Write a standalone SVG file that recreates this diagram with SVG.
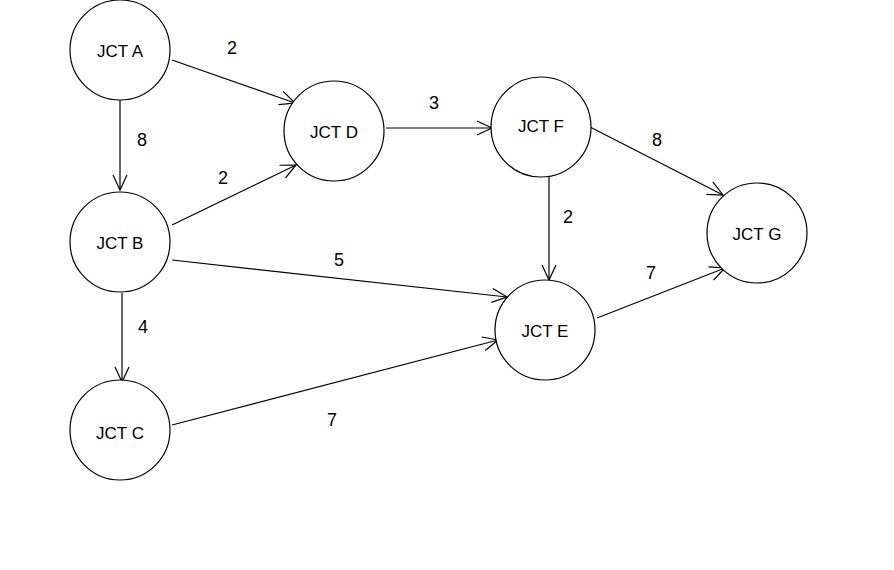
<svg xmlns="http://www.w3.org/2000/svg" width="894" height="570" viewBox="0 0 894 570">
<style>
circle{fill:#fff;stroke:#000;stroke-width:1.2}
text{font-family:"Liberation Sans",Arial,sans-serif;font-size:18px;fill:#000}
.n{text-anchor:middle;dominant-baseline:central;font-size:17px}
#edges line{stroke:#000;stroke-width:1.2;marker-end:url(#ah)}
</style>
<defs><marker id="ah" markerWidth="20" markerHeight="20" refX="16" refY="10" orient="auto" markerUnits="userSpaceOnUse"><path d="M1,3 L16,10 L1,17" fill="none" stroke="#000" stroke-width="1.2"/></marker></defs>
<rect width="894" height="570" fill="#fff"/>
<g id="edges">
<line x1="172" y1="60" x2="295" y2="103"/>
<line x1="120" y1="100" x2="120" y2="190"/>
<line x1="172" y1="225" x2="296" y2="165"/>
<line x1="172" y1="260" x2="507" y2="297"/>
<line x1="122" y1="293" x2="122" y2="382"/>
<line x1="172" y1="425" x2="498" y2="340"/>
<line x1="386" y1="128" x2="492" y2="128"/>
<line x1="549" y1="177" x2="549" y2="280"/>
<line x1="590" y1="127" x2="723" y2="195"/>
<line x1="597" y1="318" x2="725" y2="268"/>
<text x="227" y="54">2</text><text x="137" y="146">8</text><text x="218" y="184">2</text>
<text x="334" y="266">5</text><text x="138" y="333">4</text><text x="327" y="426">7</text>
<text x="429" y="109">3</text><text x="563" y="223">2</text><text x="652" y="146">8</text><text x="646" y="279">7</text>
</g>
<g id="A"><circle cx="120" cy="50" r="50"/><text class="n" x="120" y="51">JCT A</text></g>
<g id="B"><circle cx="120" cy="242" r="50"/><text class="n" x="120" y="243">JCT B</text></g>
<g id="C"><circle cx="120" cy="430" r="50"/><text class="n" x="120" y="433">JCT C</text></g>
<g id="D"><circle cx="334" cy="131" r="50"/><text class="n" x="334" y="132">JCT D</text></g>
<g id="F"><circle cx="541" cy="127" r="50"/><text class="n" x="541" y="126">JCT F</text></g>
<g id="E"><circle cx="545" cy="330" r="50"/><text class="n" x="545" y="331">JCT E</text></g>
<g id="G"><circle cx="757" cy="233" r="50"/><text class="n" x="757" y="234">JCT G</text></g>
</svg>
